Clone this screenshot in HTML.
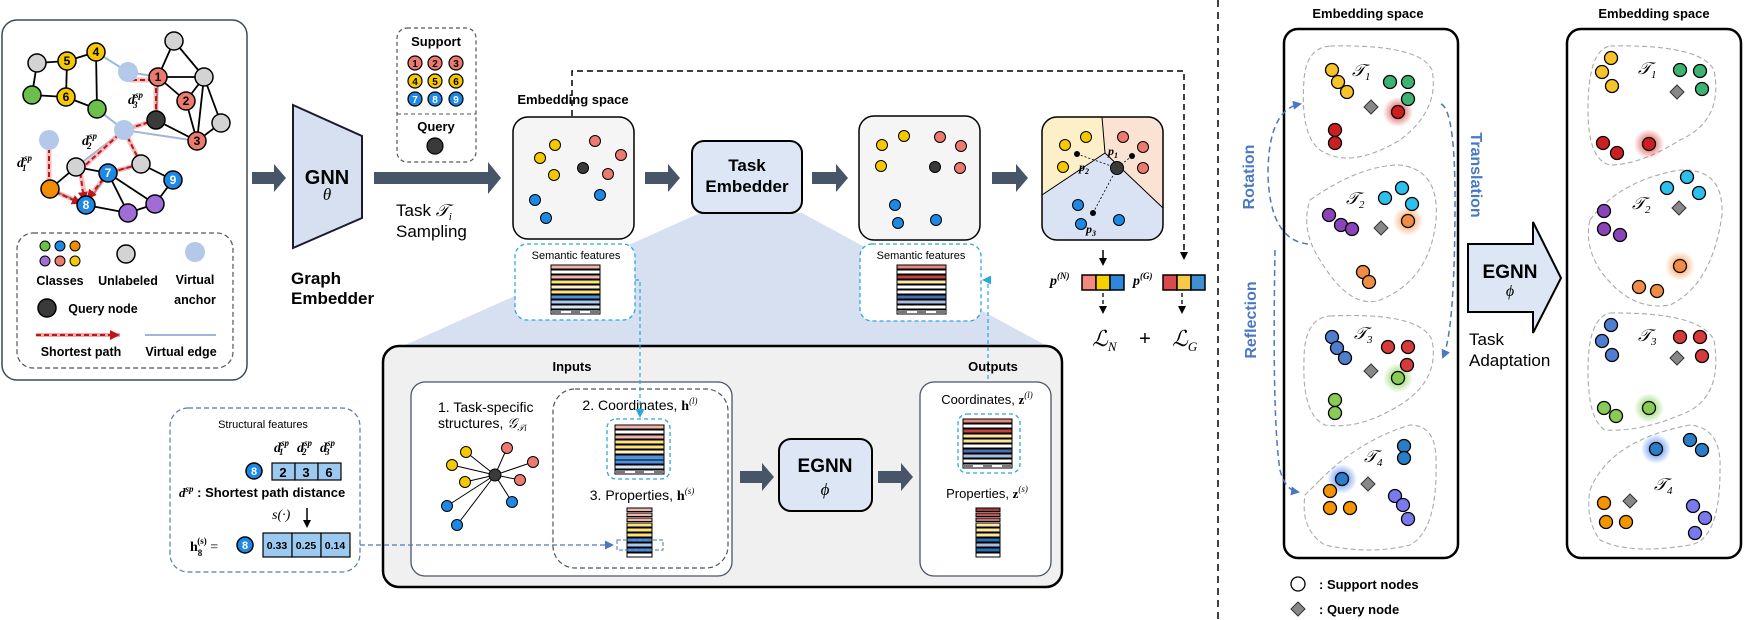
<!DOCTYPE html>
<html><head><meta charset="utf-8"><style>
html,body{margin:0;padding:0;background:#fff;}
svg{display:block;font-family:"Liberation Sans",sans-serif;}
.b{font-weight:bold;}
.m{font-family:"Liberation Serif",serif;font-style:italic;}
</style></head><body>
<svg width="1746" height="620" viewBox="0 0 1746 620" xmlns="http://www.w3.org/2000/svg">
<defs>
<marker id="ak" markerWidth="8" markerHeight="8" refX="6" refY="4" orient="auto" markerUnits="userSpaceOnUse"><path d="M0,0 L8,4 L0,8 z" fill="#000"/></marker>
<marker id="ac" markerWidth="9" markerHeight="9" refX="7" refY="4.5" orient="auto" markerUnits="userSpaceOnUse"><path d="M0,0 L9,4.5 L0,9 z" fill="#29a8e0"/></marker>
<marker id="ab" markerWidth="9" markerHeight="9" refX="7" refY="4.5" orient="auto" markerUnits="userSpaceOnUse"><path d="M0,0 L9,4.5 L0,9 z" fill="#4a78c2"/></marker>
<marker id="ar" markerWidth="10" markerHeight="10" refX="8" refY="5" orient="auto" markerUnits="userSpaceOnUse"><path d="M0,0 L10,5 L0,10 z" fill="#c0161a"/></marker>
<radialGradient id="gr"><stop offset="0.4" stop-color="#d33" stop-opacity="0.6"/><stop offset="1" stop-color="#d33" stop-opacity="0"/></radialGradient>
<radialGradient id="go"><stop offset="0.4" stop-color="#f59040" stop-opacity="0.6"/><stop offset="1" stop-color="#f59040" stop-opacity="0"/></radialGradient>
<radialGradient id="gg"><stop offset="0.4" stop-color="#7c4" stop-opacity="0.6"/><stop offset="1" stop-color="#7c4" stop-opacity="0"/></radialGradient>
<radialGradient id="gb"><stop offset="0.4" stop-color="#37e" stop-opacity="0.6"/><stop offset="1" stop-color="#37e" stop-opacity="0"/></radialGradient>
</defs>

<!-- ===== Left graph panel ===== -->
<rect x="2" y="20" width="245" height="360" rx="15" fill="#fff" stroke="#3d4a5c" stroke-width="1.5"/>
<g stroke="#9fb5dd" stroke-width="2">
<line x1="96" y1="52" x2="128" y2="72"/><line x1="128" y1="72" x2="158" y2="77"/>
<line x1="124" y1="130" x2="156" y2="120"/><line x1="124" y1="130" x2="197" y2="141"/>
<line x1="124" y1="130" x2="97" y2="109"/><line x1="124" y1="130" x2="76" y2="167"/>
<line x1="124" y1="130" x2="141" y2="164"/>
</g>
<g stroke="#000" stroke-width="1.8">
<line x1="37" y1="63" x2="67" y2="61"/><line x1="67" y1="61" x2="96" y2="52"/>
<line x1="37" y1="63" x2="32" y2="95"/><line x1="32" y1="95" x2="66" y2="97"/>
<line x1="67" y1="61" x2="66" y2="97"/><line x1="66" y1="97" x2="97" y2="109"/>
<line x1="96" y1="52" x2="97" y2="109"/>
<line x1="174" y1="41" x2="158" y2="77"/><line x1="174" y1="41" x2="204" y2="77"/>
<line x1="158" y1="77" x2="204" y2="77"/><line x1="158" y1="77" x2="186" y2="101"/>
<line x1="158" y1="77" x2="156" y2="120"/><line x1="156" y1="120" x2="197" y2="141"/>
<line x1="186" y1="101" x2="197" y2="141"/><line x1="204" y1="77" x2="197" y2="141"/>
<line x1="204" y1="77" x2="221" y2="123"/><line x1="221" y1="123" x2="197" y2="141"/>
<line x1="186" y1="101" x2="204" y2="77"/>
<line x1="50" y1="189" x2="76" y2="167"/><line x1="76" y1="167" x2="108" y2="173"/>
<line x1="108" y1="173" x2="141" y2="164"/><line x1="141" y1="164" x2="173" y2="180"/>
<line x1="50" y1="189" x2="86" y2="205"/><line x1="108" y1="173" x2="86" y2="205"/>
<line x1="108" y1="173" x2="128" y2="213"/><line x1="108" y1="173" x2="155" y2="204"/>
<line x1="86" y1="205" x2="128" y2="213"/><line x1="128" y1="213" x2="155" y2="204"/>
<line x1="155" y1="204" x2="173" y2="180"/>
</g>
<g fill="none" stroke="#f4a8a8" stroke-width="5" opacity="0.7">
<polyline points="130,80 156,80 156,120 124,130 80,170 86,202"/>
<polyline points="124,130 141,164 108,173 86,202"/>
<polyline points="49,142 49,189 84,204"/>
</g>
<g fill="none" stroke="#c0161a" stroke-width="2" stroke-dasharray="5,3">
<polyline points="132,80 156,80 156,120 124,130 80,170 84,200" marker-end="url(#ar)"/>
<polyline points="124,130 141,164 108,173 88,198" marker-end="url(#ar)"/>
<polyline points="49,148 49,189 80,203" marker-end="url(#ar)"/>
</g>
<g stroke="#000" stroke-width="1.5">
<circle cx="37" cy="63" r="9" fill="#d3d3d3"/><circle cx="67" cy="61" r="9" fill="#f5c800"/>
<circle cx="96" cy="52" r="9" fill="#f5c800"/><circle cx="158" cy="77" r="9" fill="#ec7a6e"/>
<circle cx="174" cy="41" r="9" fill="#d3d3d3"/><circle cx="204" cy="77" r="9" fill="#d3d3d3"/>
<circle cx="186" cy="101" r="9" fill="#ec7a6e"/><circle cx="156" cy="120" r="9" fill="#3a3a3a"/>
<circle cx="221" cy="123" r="9" fill="#d3d3d3"/><circle cx="197" cy="141" r="9" fill="#ec7a6e"/>
<circle cx="32" cy="95" r="9" fill="#6cc04a"/><circle cx="66" cy="97" r="9" fill="#f5c800"/>
<circle cx="97" cy="109" r="9" fill="#6cc04a"/>
<circle cx="76" cy="167" r="9" fill="#d3d3d3"/><circle cx="108" cy="173" r="9" fill="#1e88e5"/>
<circle cx="141" cy="164" r="9" fill="#d3d3d3"/><circle cx="173" cy="180" r="9" fill="#1e88e5"/>
<circle cx="50" cy="189" r="9" fill="#f08c00"/><circle cx="86" cy="205" r="9" fill="#1e88e5"/>
<circle cx="128" cy="213" r="9" fill="#a06cd5"/><circle cx="155" cy="204" r="9" fill="#a06cd5"/>
</g>
<g fill="#b4c8ea"><circle cx="128" cy="72" r="10"/><circle cx="124" cy="130" r="10"/><circle cx="49" cy="140" r="10"/></g>
<g class="b" font-size="12" text-anchor="middle">
<text x="67" y="65">5</text><text x="96" y="56">4</text><text x="158" y="81">1</text>
<text x="186" y="105">2</text><text x="197" y="145">3</text><text x="66" y="101">6</text>
<text x="108" y="177" fill="#fff">7</text><text x="173" y="184" fill="#fff">9</text><text x="86" y="209" fill="#fff">8</text>
</g>
<g class="m b" font-size="14"><text x="17" y="167">d<tspan font-size="9" dy="-6">sp</tspan><tspan font-size="9" dx="-10" dy="10">1</tspan></text>
<text x="82" y="145">d<tspan font-size="9" dy="-6">sp</tspan><tspan font-size="9" dx="-10" dy="10">2</tspan></text>
<text x="128" y="104">d<tspan font-size="9" dy="-6">sp</tspan><tspan font-size="9" dx="-10" dy="10">3</tspan></text></g>
<!-- legend -->
<rect x="17" y="233" width="216" height="135" rx="16" fill="none" stroke="#555" stroke-width="1.2" stroke-dasharray="5,3"/>
<g stroke="#000" stroke-width="1">
<circle cx="45" cy="246" r="5" fill="#6cc04a"/><circle cx="60" cy="246" r="5" fill="#1e88e5"/><circle cx="75" cy="246" r="5" fill="#f08c00"/>
<circle cx="45" cy="261" r="5" fill="#a06cd5"/><circle cx="60" cy="261" r="5" fill="#ec7a6e"/><circle cx="75" cy="261" r="5" fill="#f5c800"/>
<circle cx="126" cy="254" r="9" fill="#d3d3d3" stroke-width="1.5"/>
<circle cx="47" cy="308" r="9" fill="#3a3a3a" stroke-width="1.5"/>
</g>
<circle cx="195" cy="252" r="10" fill="#b4c8ea"/>
<g class="b" font-size="12.5" text-anchor="middle">
<text x="60" y="285">Classes</text><text x="128" y="285">Unlabeled</text>
<text x="195" y="284">Virtual</text><text x="195" y="304">anchor</text>
<text x="103" y="313">Query node</text>
<text x="81" y="356">Shortest path</text><text x="181" y="356">Virtual edge</text>
</g>
<line x1="36" y1="335" x2="120" y2="335" stroke="#f4a8a8" stroke-width="4"/>
<line x1="36" y1="335" x2="118" y2="335" stroke="#c0161a" stroke-width="2" stroke-dasharray="5,3" marker-end="url(#ar)"/>
<line x1="145" y1="335" x2="216" y2="335" stroke="#9fb5dd" stroke-width="2"/>

<!-- arrows -->
<g fill="#475569">
<path d="M252,172 H274 V164 L286,178 L274,192 V184 H252 z"/>
<path d="M374,172 H488 V162 L501,178 L488,194 V184 H374 z"/>
<path d="M645,172 H668 V164 L680,178 L668,192 V184 H645 z"/>
<path d="M812,172 H836 V164 L848,178 L836,192 V184 H812 z"/>
<path d="M992,172 H1016 V164 L1028,178 L1016,192 V184 H992 z"/>
</g>

<!-- GNN -->
<path d="M293,105 L362,136 L362,218 L293,248 z" fill="#d6e0f0" stroke="#1a1a2e" stroke-width="2"/>
<text x="327" y="184" class="b" font-size="20" text-anchor="middle">GNN</text>
<text x="327" y="200" class="m" font-size="17" text-anchor="middle">θ</text>
<text x="291" y="284" class="b" font-size="17">Graph</text>
<text x="291" y="304" class="b" font-size="17">Embedder</text>

<!-- support -->
<rect x="397" y="28" width="79" height="134" rx="10" fill="none" stroke="#555" stroke-width="1.2" stroke-dasharray="4,3"/>
<line x1="397" y1="114" x2="476" y2="114" stroke="#555" stroke-width="1" stroke-dasharray="4,3"/>
<text x="436" y="46" class="b" font-size="13" text-anchor="middle">Support</text>
<text x="436" y="131" class="b" font-size="13" text-anchor="middle">Query</text>
<g stroke="#000" stroke-width="1.2">
<circle cx="415" cy="63" r="7" fill="#ec7a6e"/><circle cx="435" cy="63" r="7" fill="#ec7a6e"/><circle cx="456" cy="63" r="7" fill="#ec7a6e"/>
<circle cx="415" cy="81" r="7" fill="#f5c800"/><circle cx="435" cy="81" r="7" fill="#f5c800"/><circle cx="456" cy="81" r="7" fill="#f5c800"/>
<circle cx="415" cy="99" r="7" fill="#1e88e5"/><circle cx="435" cy="99" r="7" fill="#1e88e5"/><circle cx="456" cy="99" r="7" fill="#1e88e5"/>
<circle cx="435" cy="146" r="8" fill="#3a3a3a"/>
</g>
<g font-size="10" text-anchor="middle" class="b">
<text x="415" y="67">1</text><text x="435" y="67">2</text><text x="456" y="67">3</text>
<text x="415" y="85">4</text><text x="435" y="85">5</text><text x="456" y="85">6</text>
<text x="415" y="103" fill="#fff">7</text><text x="435" y="103" fill="#fff">8</text><text x="456" y="103" fill="#fff">9</text>
</g>
<text x="396" y="216" font-size="17">Task <tspan class="m">𝒯</tspan><tspan class="m" font-size="11" dy="4">i</tspan></text>
<text x="396" y="237" font-size="17">Sampling</text>

<!-- light blue fan -->
<polygon points="700,213 802,213 1047,346 403,346" fill="#d6e0f0"/>

<!-- dashed black feedback -->
<polyline points="572,116 572,71 1184,71 1184,258" fill="none" stroke="#000" stroke-width="1.5" stroke-dasharray="6,4" marker-end="url(#ak)"/>

<!-- embedding 1 -->
<text x="573" y="104" class="b" font-size="13" text-anchor="middle">Embedding space</text>
<rect x="513" y="117" width="121" height="122" rx="15" fill="#f5f5f5" stroke="#000" stroke-width="1.5"/>
<g stroke="#000" stroke-width="1">
<circle cx="555" cy="145" r="5.5" fill="#f5c800"/><circle cx="540" cy="158" r="5.5" fill="#f5c800"/><circle cx="554" cy="175" r="5.5" fill="#f5c800"/>
<circle cx="595" cy="141" r="5.5" fill="#ec7a6e"/><circle cx="621" cy="155" r="5.5" fill="#ec7a6e"/><circle cx="608" cy="174" r="5.5" fill="#ec7a6e"/>
<circle cx="583" cy="168" r="5.5" fill="#3a3a3a"/>
<circle cx="535" cy="200" r="5.5" fill="#1e88e5"/><circle cx="546" cy="218" r="5.5" fill="#1e88e5"/><circle cx="600" cy="195" r="5.5" fill="#1e88e5"/>
</g>
<!-- task embedder -->
<rect x="692" y="141" width="110" height="72" rx="12" fill="#dce6f4" stroke="#000" stroke-width="2"/>
<text x="747" y="171" class="b" font-size="17" text-anchor="middle">Task</text>
<text x="747" y="192" class="b" font-size="17" text-anchor="middle">Embedder</text>
<!-- embedding 2 -->
<rect x="859" y="116" width="121" height="124" rx="15" fill="#f5f5f5" stroke="#000" stroke-width="1.5"/>
<g stroke="#000" stroke-width="1">
<circle cx="882" cy="145" r="5.5" fill="#f5c800"/><circle cx="904" cy="136" r="5.5" fill="#f5c800"/><circle cx="881" cy="166" r="5.5" fill="#f5c800"/>
<circle cx="940" cy="137" r="5.5" fill="#ec7a6e"/><circle cx="961" cy="146" r="5.5" fill="#ec7a6e"/><circle cx="960" cy="168" r="5.5" fill="#ec7a6e"/>
<circle cx="935" cy="167" r="5.5" fill="#3a3a3a"/>
<circle cx="895" cy="205" r="5.5" fill="#1e88e5"/><circle cx="898" cy="223" r="5.5" fill="#1e88e5"/><circle cx="936" cy="220" r="5.5" fill="#1e88e5"/>
</g>

<!-- semantic boxes -->
<rect x="515" y="244" width="120" height="76" rx="12" fill="#fff" stroke="#29a8e0" stroke-width="1.3" stroke-dasharray="4,3"/>
<text x="576" y="259" font-size="11" text-anchor="middle">Semantic features</text>
<g stroke="#000" stroke-width="1">
<rect x="551" y="265" width="49" height="4" fill="#f4b4ac"/><rect x="551" y="270" width="49" height="4" fill="#fff"/>
<rect x="551" y="275" width="49" height="4" fill="#f4b4ac"/><rect x="551" y="280" width="49" height="4" fill="#fde27a"/>
<rect x="551" y="285" width="49" height="4" fill="#fff3c0"/><rect x="551" y="290" width="49" height="4" fill="#fde27a"/>
<rect x="551" y="295" width="49" height="4" fill="#4f93e0"/><rect x="551" y="300" width="49" height="4" fill="#a9c9f0"/>
<rect x="551" y="305" width="49" height="4" fill="#d6e6f8"/><rect x="551" y="310" width="49" height="4" fill="#fff"/>
</g>
<g fill="#777"><rect x="552" y="311" width="9" height="3"/><rect x="571" y="311" width="9" height="3"/><rect x="590" y="311" width="9" height="3"/></g>
<rect x="860" y="244" width="121" height="77" rx="12" fill="#fff" stroke="#29a8e0" stroke-width="1.3" stroke-dasharray="4,3"/>
<text x="921" y="259" font-size="11" text-anchor="middle">Semantic features</text>
<g stroke="#000" stroke-width="1">
<rect x="897" y="265" width="49" height="4" fill="#e88a80"/><rect x="897" y="270" width="49" height="4" fill="#fff"/>
<rect x="897" y="275" width="49" height="4" fill="#c84040"/><rect x="897" y="280" width="49" height="4" fill="#fde7a0"/>
<rect x="897" y="285" width="49" height="4" fill="#fff"/><rect x="897" y="290" width="49" height="4" fill="#fff"/>
<rect x="897" y="295" width="49" height="4" fill="#4a6fb0"/><rect x="897" y="300" width="49" height="4" fill="#a9bde0"/>
<rect x="897" y="305" width="49" height="4" fill="#fff"/><rect x="897" y="310" width="49" height="4" fill="#fff"/>
</g>
<g fill="#777"><rect x="898" y="311" width="9" height="3"/><rect x="917" y="311" width="9" height="3"/><rect x="936" y="311" width="9" height="3"/></g>

<!-- voronoi -->
<clipPath id="vc"><rect x="1042" y="117" width="121" height="123" rx="15"/></clipPath>
<g clip-path="url(#vc)">
<rect x="1042" y="117" width="121" height="123" fill="#fdf0c8"/>
<polygon points="1102,117 1163,117 1163,208 1105,153" fill="#fbe3d4"/>
<polygon points="1042,195 1105,153 1163,208 1163,240 1042,240" fill="#dae3f3"/>
<polyline points="1102,117 1105,153" stroke="#000" stroke-width="1" fill="none"/>
<polyline points="1042,195 1105,153 1163,208" stroke="#000" stroke-width="1" fill="none"/>
<g stroke="#000" stroke-width="0.8" stroke-dasharray="2,2"><line x1="1077" y1="154" x2="1117" y2="168"/><line x1="1132" y1="156" x2="1117" y2="168"/><line x1="1093" y1="213" x2="1117" y2="168"/></g>
</g>
<rect x="1042" y="117" width="121" height="123" rx="15" fill="none" stroke="#000" stroke-width="1.5"/>
<g stroke="#000" stroke-width="1">
<circle cx="1065" cy="145" r="5.5" fill="#f5c800"/><circle cx="1086" cy="137" r="5.5" fill="#f5c800"/><circle cx="1063" cy="167" r="5.5" fill="#f5c800"/>
<circle cx="1123" cy="137" r="5.5" fill="#ec7a6e"/><circle cx="1143" cy="147" r="5.5" fill="#ec7a6e"/><circle cx="1143" cy="168" r="5.5" fill="#ec7a6e"/>
<circle cx="1117" cy="168" r="6.5" fill="#3a3a3a"/>
<circle cx="1078" cy="205" r="5.5" fill="#1e88e5"/><circle cx="1081" cy="224" r="5.5" fill="#1e88e5"/><circle cx="1119" cy="220" r="5.5" fill="#1e88e5"/>
</g>
<g fill="#000"><circle cx="1077" cy="154" r="3"/><circle cx="1132" cy="156" r="3"/><circle cx="1093" cy="213" r="3"/></g>
<g class="m b" font-size="12"><text x="1108" y="155">p<tspan font-size="8" dy="3">1</tspan></text>
<text x="1079" y="171">p<tspan font-size="8" dy="3">2</tspan></text><text x="1086" y="233">p<tspan font-size="8" dy="3">3</tspan></text></g>

<line x1="1103" y1="250" x2="1103" y2="264" stroke="#000" stroke-width="1.5" marker-end="url(#ak)"/>
<text x="1050" y="285" class="m b" font-size="14">p<tspan font-size="9" dy="-6">(N)</tspan></text>
<g stroke="#000" stroke-width="1.5"><rect x="1082" y="275" width="14" height="15" fill="#f28b7d"/><rect x="1096" y="275" width="14" height="15" fill="#f7d000"/><rect x="1110" y="275" width="14" height="15" fill="#2e86de"/></g>
<text x="1133" y="285" class="m b" font-size="14">p<tspan font-size="9" dy="-6">(G)</tspan></text>
<g stroke="#000" stroke-width="1.5"><rect x="1163" y="275" width="14" height="15" fill="#d94a4a"/><rect x="1177" y="275" width="14" height="15" fill="#f7c948"/><rect x="1191" y="275" width="14" height="15" fill="#3f8fd2"/></g>
<line x1="1103" y1="293" x2="1103" y2="312" stroke="#000" stroke-width="1.3" stroke-dasharray="4,3" marker-end="url(#ak)"/>
<line x1="1182" y1="293" x2="1182" y2="312" stroke="#000" stroke-width="1.3" stroke-dasharray="4,3" marker-end="url(#ak)"/>
<text x="1092" y="346" class="m" font-size="22">ℒ<tspan font-size="13" dy="5">N</tspan></text>
<text x="1145" y="345" font-size="20" text-anchor="middle">+</text>
<text x="1172" y="346" class="m" font-size="22">ℒ<tspan font-size="13" dy="5">G</tspan></text>

<!-- divider -->
<line x1="1218" y1="0" x2="1218" y2="620" stroke="#000" stroke-width="1.5" stroke-dasharray="7,5"/>

<!-- structural features -->
<rect x="170" y="408" width="190" height="164" rx="18" fill="#fff" stroke="#5577bb" stroke-width="1.2" stroke-dasharray="5,3"/>
<text x="263" y="428" font-size="11" text-anchor="middle">Structural features</text>
<g class="m b" font-size="14"><text x="274" y="452">d<tspan font-size="9" dy="-6">sp</tspan><tspan font-size="9" dx="-10" dy="9">1</tspan></text>
<text x="297" y="452">d<tspan font-size="9" dy="-6">sp</tspan><tspan font-size="9" dx="-10" dy="9">2</tspan></text>
<text x="320" y="452">d<tspan font-size="9" dy="-6">sp</tspan><tspan font-size="9" dx="-10" dy="9">3</tspan></text></g>
<circle cx="254" cy="471" r="8" fill="#1e88e5" stroke="#000" stroke-width="1.5"/>
<text x="254" y="475" class="b" font-size="11" fill="#fff" text-anchor="middle">8</text>
<g stroke="#000" stroke-width="1.2" fill="#9cc9f0"><rect x="272" y="463" width="23" height="17"/><rect x="295" y="463" width="23" height="17"/><rect x="318" y="463" width="23" height="17"/></g>
<g class="b" font-size="13" text-anchor="middle"><text x="283" y="477">2</text><text x="306" y="477">3</text><text x="329" y="477">6</text></g>
<text x="179" y="497" font-size="13" class="b"><tspan class="m">d<tspan font-size="9" dy="-5">sp</tspan></tspan><tspan dy="5"> : Shortest path distance</tspan></text>
<text x="272" y="519" class="m" font-size="14">s(·)</text>
<line x1="307" y1="508" x2="307" y2="526" stroke="#000" stroke-width="1.5" marker-end="url(#ak)"/>
<text x="190" y="551" font-size="14" class="b" font-family="Liberation Serif">h<tspan font-size="9" dy="5">8</tspan><tspan font-size="9" dx="-5" dy="-12">(s)</tspan><tspan font-size="14" font-weight="normal" dy="7"> =</tspan></text>
<circle cx="245" cy="545" r="8" fill="#1e88e5" stroke="#000" stroke-width="1.5"/>
<text x="245" y="549" class="b" font-size="11" fill="#fff" text-anchor="middle">8</text>
<g stroke="#000" stroke-width="1.2" fill="#9cc9f0"><rect x="263" y="533" width="29" height="24"/><rect x="292" y="533" width="29" height="24"/><rect x="321" y="533" width="29" height="24"/></g>
<g class="b" font-size="10.5" text-anchor="middle"><text x="277" y="549">0.33</text><text x="306" y="549">0.25</text><text x="335" y="549">0.14</text></g>

<!-- bottom big box -->
<rect x="383" y="346" width="679" height="241" rx="16" fill="#f0f0f0" stroke="#000" stroke-width="2.5"/>
<g fill="#475569">
<path d="M740,471 H762 V463 L774,477 L762,491 V483 H740 z"/>
<path d="M878,471 H901 V463 L913,477 L901,491 V483 H878 z"/>
</g>
<text x="572" y="371" class="b" font-size="13" text-anchor="middle">Inputs</text>
<rect x="411" y="382" width="321" height="194" rx="14" fill="#fff" stroke="#4a5568" stroke-width="1.3"/>
<rect x="553" y="389" width="175" height="179" rx="22" fill="none" stroke="#4a5568" stroke-width="1.2" stroke-dasharray="5,3"/>
<text x="438" y="412" font-size="14">1. Task-specific</text>
<text x="438" y="428" font-size="14">structures, <tspan class="m">𝒢</tspan><tspan class="m" font-size="9" dy="3">𝒯i</tspan></text>
<g stroke="#000" stroke-width="1">
<line x1="495" y1="475" x2="466" y2="452"/><line x1="495" y1="475" x2="452" y2="465"/><line x1="495" y1="475" x2="465" y2="482"/>
<line x1="495" y1="475" x2="507" y2="448"/><line x1="495" y1="475" x2="533" y2="462"/><line x1="495" y1="475" x2="520" y2="480"/>
<line x1="495" y1="475" x2="447" y2="506"/><line x1="495" y1="475" x2="457" y2="525"/><line x1="495" y1="475" x2="512" y2="502"/>
<circle cx="466" cy="452" r="5.5" fill="#f5c800"/><circle cx="452" cy="465" r="5.5" fill="#f5c800"/><circle cx="465" cy="482" r="5.5" fill="#f5c800"/>
<circle cx="507" cy="448" r="5.5" fill="#ec7a6e"/><circle cx="533" cy="462" r="5.5" fill="#ec7a6e"/><circle cx="520" cy="480" r="5.5" fill="#ec7a6e"/>
<circle cx="447" cy="506" r="5.5" fill="#1e88e5"/><circle cx="457" cy="525" r="5.5" fill="#1e88e5"/><circle cx="512" cy="502" r="5.5" fill="#1e88e5"/>
<circle cx="495" cy="475" r="6" fill="#3a3a3a"/>
</g>
<text x="640" y="410" font-size="14" text-anchor="middle">2. Coordinates, <tspan font-family="Liberation Serif" font-weight="bold">h</tspan><tspan font-size="9" dy="-6" class="m">(l)</tspan></text>
<rect x="607" y="419" width="63" height="60" rx="9" fill="none" stroke="#29a8e0" stroke-width="1.3" stroke-dasharray="4,3"/>
<g stroke="#000" stroke-width="1">
<rect x="615" y="425" width="49" height="4" fill="#f4b4ac"/><rect x="615" y="430" width="49" height="4" fill="#fff"/>
<rect x="615" y="435" width="49" height="4" fill="#f4b4ac"/><rect x="615" y="440" width="49" height="4" fill="#fde27a"/>
<rect x="615" y="445" width="49" height="4" fill="#fde27a"/><rect x="615" y="450" width="49" height="4" fill="#fff3c0"/>
<rect x="615" y="455" width="49" height="5" fill="#4f93e0"/><rect x="615" y="460" width="49" height="4" fill="#4f93e0"/>
<rect x="615" y="465" width="49" height="4" fill="#d6e6f8"/><rect x="615" y="470" width="49" height="4" fill="#fff"/>
</g>
<g fill="#777"><rect x="616" y="471" width="9" height="3"/><rect x="635" y="471" width="9" height="3"/><rect x="654" y="471" width="9" height="3"/></g>
<text x="642" y="500" font-size="14" text-anchor="middle">3. Properties, <tspan font-family="Liberation Serif" font-weight="bold">h</tspan><tspan font-size="9" dy="-6" class="m">(s)</tspan></text>
<g stroke="#000" stroke-width="1">
<rect x="627" y="508" width="25" height="3.5" fill="#f4b4ac"/><rect x="627" y="513" width="25" height="3.5" fill="#f4b4ac"/>
<rect x="627" y="518" width="25" height="3.5" fill="#f4b4ac"/><rect x="627" y="523" width="25" height="4" fill="#fde27a"/>
<rect x="627" y="528" width="25" height="4" fill="#fde27a"/><rect x="627" y="533" width="25" height="4" fill="#fde27a"/>
<rect x="627" y="538" width="25" height="4" fill="#4f93e0"/><rect x="627" y="543" width="25" height="4" fill="#a9c9f0"/>
<rect x="627" y="548" width="25" height="4" fill="#4f93e0"/><rect x="627" y="553" width="25" height="4" fill="#fff"/>
</g>
<rect x="617" y="540" width="46" height="10" fill="none" stroke="#4a78c2" stroke-width="1" stroke-dasharray="4,2"/>
<line x1="360" y1="545" x2="612" y2="545" stroke="#4a78c2" stroke-width="1.2" stroke-dasharray="5,3" marker-end="url(#ab)"/>
<polyline points="635,280 640,280 640,416" fill="none" stroke="#29a8e0" stroke-width="1.2" stroke-dasharray="4,3" marker-end="url(#ac)"/>
<polyline points="988,414 988,280 984,280" fill="none" stroke="#29a8e0" stroke-width="1.2" stroke-dasharray="4,3" marker-end="url(#ac)"/>

<rect x="779" y="439" width="93" height="72" rx="12" fill="#dce6f4" stroke="#000" stroke-width="2"/>
<text x="825" y="472" class="b" font-size="19" text-anchor="middle">EGNN</text>
<text x="825" y="495" class="m" font-size="17" text-anchor="middle">ϕ</text>

<text x="993" y="371" class="b" font-size="13" text-anchor="middle">Outputs</text>
<rect x="920" y="382" width="131" height="194" rx="14" fill="#fff" stroke="#4a5568" stroke-width="1.3"/>
<text x="987" y="404" font-size="13" text-anchor="middle">Coordinates, <tspan font-family="Liberation Serif" font-weight="bold">z</tspan><tspan font-size="9" dy="-6" class="m">(l)</tspan></text>
<rect x="958" y="414" width="62" height="59" rx="9" fill="none" stroke="#29a8e0" stroke-width="1.3" stroke-dasharray="4,3"/>
<g stroke="#000" stroke-width="1">
<rect x="963" y="419" width="49" height="4" fill="#e88a80"/><rect x="963" y="424" width="49" height="4" fill="#fff"/>
<rect x="963" y="429" width="49" height="4" fill="#c84040"/><rect x="963" y="434" width="49" height="4" fill="#fde7a0"/>
<rect x="963" y="439" width="49" height="4" fill="#fde7a0"/><rect x="963" y="444" width="49" height="4" fill="#fff"/>
<rect x="963" y="449" width="49" height="4" fill="#4a6fb0"/><rect x="963" y="454" width="49" height="4" fill="#a9bde0"/>
<rect x="963" y="459" width="49" height="4" fill="#fff"/><rect x="963" y="464" width="49" height="4" fill="#fff"/>
</g>
<g fill="#777"><rect x="964" y="465" width="9" height="3"/><rect x="983" y="465" width="9" height="3"/><rect x="1002" y="465" width="9" height="3"/></g>
<text x="987" y="498" font-size="13" text-anchor="middle">Properties, <tspan font-family="Liberation Serif" font-weight="bold">z</tspan><tspan font-size="9" dy="-6" class="m">(s)</tspan></text>
<g stroke="#000" stroke-width="1">
<rect x="976" y="508" width="24" height="3.5" fill="#a83a3a"/><rect x="976" y="513" width="24" height="3.5" fill="#c85050"/>
<rect x="976" y="518" width="24" height="3.5" fill="#c07070"/><rect x="976" y="523" width="24" height="4" fill="#fde7a0"/>
<rect x="976" y="528" width="24" height="4" fill="#fde7a0"/><rect x="976" y="533" width="24" height="4" fill="#fde7a0"/>
<rect x="976" y="538" width="24" height="4" fill="#2a6fb8"/><rect x="976" y="543" width="24" height="4" fill="#a9bde0"/>
<rect x="976" y="548" width="24" height="4" fill="#2a6fb8"/><rect x="976" y="553" width="24" height="4" fill="#fff"/>
</g>

<!-- ===== Right side ===== -->
<text x="1368" y="18" class="b" font-size="13" text-anchor="middle">Embedding space</text>
<text x="1654" y="18" class="b" font-size="13" text-anchor="middle">Embedding space</text>
<rect x="1284" y="29" width="174" height="529" rx="14" fill="#fff" stroke="#000" stroke-width="2.5"/>
<rect x="1567" y="29" width="174" height="529" rx="14" fill="#fff" stroke="#000" stroke-width="2.5"/>

<g fill="none" stroke="#aaa" stroke-width="1.1" stroke-dasharray="5,3">
<path d="M1330,46 Q1420,44 1432,70 Q1440,110 1400,140 Q1350,170 1320,150 Q1300,135 1304,80 Q1306,48 1330,46 z"/>
<path d="M1310,200 Q1360,165 1400,165 Q1440,170 1436,220 Q1430,280 1380,300 Q1350,310 1320,260 Q1300,230 1310,200 z"/>
<path d="M1330,316 Q1420,312 1432,340 Q1440,380 1400,405 Q1360,430 1325,425 Q1302,415 1304,360 Q1304,318 1330,316 z"/>
<path d="M1320,480 Q1360,440 1410,425 Q1436,425 1436,460 Q1438,530 1410,545 Q1370,555 1325,545 Q1300,530 1305,495 z"/>
<path d="M1610,46 Q1700,44 1714,70 Q1724,120 1680,140 Q1640,165 1610,165 Q1588,160 1588,110 Q1588,50 1610,46 z"/>
<path d="M1590,220 Q1620,180 1680,170 Q1724,168 1722,215 Q1712,285 1670,305 Q1630,312 1600,270 Q1584,245 1590,220 z"/>
<path d="M1610,313 Q1700,312 1714,340 Q1724,400 1680,415 Q1640,432 1605,430 Q1588,420 1588,370 Q1588,318 1610,313 z"/>
<path d="M1590,490 Q1610,440 1690,425 Q1722,428 1720,470 Q1720,540 1690,545 Q1630,555 1600,540 Q1585,520 1590,490 z"/>
</g>

<!-- glows -->
<circle cx="1398" cy="112" r="15" fill="url(#gr)"/><circle cx="1408" cy="221" r="15" fill="url(#go)"/>
<circle cx="1398" cy="378" r="15" fill="url(#gg)"/><circle cx="1342" cy="479" r="15" fill="url(#gb)"/>
<circle cx="1649" cy="144" r="15" fill="url(#gr)"/><circle cx="1680" cy="266" r="15" fill="url(#go)"/>
<circle cx="1649" cy="408" r="15" fill="url(#gg)"/><circle cx="1656" cy="449" r="15" fill="url(#gb)"/>

<g stroke="#000" stroke-width="1.3">
<circle cx="1332" cy="70" r="6.5" fill="#f6c42a"/><circle cx="1338" cy="82" r="6.5" fill="#f6c42a"/><circle cx="1347" cy="92" r="6.5" fill="#f6c42a"/>
<circle cx="1390" cy="82" r="6.5" fill="#3cb371"/><circle cx="1408" cy="82" r="6.5" fill="#3cb371"/><circle cx="1408" cy="99" r="6.5" fill="#3cb371"/>
<circle cx="1398" cy="112" r="6.5" fill="#cc2020"/>
<circle cx="1335" cy="130" r="6.5" fill="#cc2020"/><circle cx="1335" cy="143" r="6.5" fill="#cc2020"/>
<circle cx="1329" cy="215" r="6.5" fill="#8a44b8"/><circle cx="1341" cy="225" r="6.5" fill="#8a44b8"/><circle cx="1352" cy="229" r="6.5" fill="#8a44b8"/>
<circle cx="1385" cy="198" r="6.5" fill="#2ec0ec"/><circle cx="1402" cy="188" r="6.5" fill="#2ec0ec"/><circle cx="1412" cy="204" r="6.5" fill="#2ec0ec"/>
<circle cx="1408" cy="221" r="6.5" fill="#f08c44"/>
<circle cx="1363" cy="272" r="6.5" fill="#f08c44"/><circle cx="1369" cy="282" r="6.5" fill="#f08c44"/>
<circle cx="1332" cy="337" r="6.5" fill="#4f7ed0"/><circle cx="1337" cy="348" r="6.5" fill="#4f7ed0"/><circle cx="1345" cy="358" r="6.5" fill="#4f7ed0"/>
<circle cx="1388" cy="347" r="6.5" fill="#d63a3a"/><circle cx="1408" cy="347" r="6.5" fill="#d63a3a"/><circle cx="1407" cy="365" r="6.5" fill="#d63a3a"/>
<circle cx="1398" cy="378" r="6.5" fill="#88cc55"/>
<circle cx="1335" cy="400" r="6.5" fill="#88cc55"/><circle cx="1335" cy="413" r="6.5" fill="#88cc55"/>
<circle cx="1404" cy="446" r="6.5" fill="#2a7ec8"/><circle cx="1404" cy="458" r="6.5" fill="#2a7ec8"/>
<circle cx="1330" cy="491" r="6.5" fill="#f59300"/><circle cx="1330" cy="508" r="6.5" fill="#f59300"/><circle cx="1350" cy="508" r="6.5" fill="#f59300"/>
<circle cx="1342" cy="479" r="6.5" fill="#2a7ec8"/>
<circle cx="1395" cy="496" r="6.5" fill="#7a7af0"/><circle cx="1403" cy="505" r="6.5" fill="#7a7af0"/><circle cx="1408" cy="519" r="6.5" fill="#7a7af0"/>
<circle cx="1611" cy="58" r="6.5" fill="#f6c42a"/><circle cx="1602" cy="72" r="6.5" fill="#f6c42a"/><circle cx="1612" cy="86" r="6.5" fill="#f6c42a"/>
<circle cx="1680" cy="70" r="6.5" fill="#3cb371"/><circle cx="1700" cy="71" r="6.5" fill="#3cb371"/><circle cx="1702" cy="89" r="6.5" fill="#3cb371"/>
<circle cx="1603" cy="143" r="6.5" fill="#cc2020"/><circle cx="1617" cy="153" r="6.5" fill="#cc2020"/><circle cx="1649" cy="144" r="6.5" fill="#cc2020"/>
<circle cx="1667" cy="188" r="6.5" fill="#2ec0ec"/><circle cx="1687" cy="177" r="6.5" fill="#2ec0ec"/><circle cx="1699" cy="193" r="6.5" fill="#2ec0ec"/>
<circle cx="1604" cy="211" r="6.5" fill="#8a44b8"/><circle cx="1604" cy="229" r="6.5" fill="#8a44b8"/><circle cx="1620" cy="235" r="6.5" fill="#8a44b8"/>
<circle cx="1680" cy="266" r="6.5" fill="#f08c44"/><circle cx="1639" cy="287" r="6.5" fill="#f08c44"/><circle cx="1657" cy="291" r="6.5" fill="#f08c44"/>
<circle cx="1611" cy="325" r="6.5" fill="#4f7ed0"/><circle cx="1602" cy="341" r="6.5" fill="#4f7ed0"/><circle cx="1612" cy="355" r="6.5" fill="#4f7ed0"/>
<circle cx="1680" cy="337" r="6.5" fill="#d63a3a"/><circle cx="1700" cy="337" r="6.5" fill="#d63a3a"/><circle cx="1702" cy="356" r="6.5" fill="#d63a3a"/>
<circle cx="1604" cy="408" r="6.5" fill="#88cc55"/><circle cx="1616" cy="416" r="6.5" fill="#88cc55"/><circle cx="1649" cy="408" r="6.5" fill="#88cc55"/>
<circle cx="1656" cy="449" r="6.5" fill="#2a7ec8"/><circle cx="1690" cy="440" r="6.5" fill="#2a7ec8"/><circle cx="1702" cy="450" r="6.5" fill="#2a7ec8"/>
<circle cx="1604" cy="503" r="6.5" fill="#f59300"/><circle cx="1606" cy="522" r="6.5" fill="#f59300"/><circle cx="1626" cy="522" r="6.5" fill="#f59300"/>
<circle cx="1693" cy="506" r="6.5" fill="#7a7af0"/><circle cx="1705" cy="518" r="6.5" fill="#7a7af0"/><circle cx="1695" cy="533" r="6.5" fill="#7a7af0"/>
</g>
<g fill="#888" stroke="#333" stroke-width="1">
<path d="M1371,100 l7,7 l-7,7 l-7,-7 z"/><path d="M1381,221 l7,7 l-7,7 l-7,-7 z"/>
<path d="M1371,364 l7,7 l-7,7 l-7,-7 z"/><path d="M1368,477 l7,7 l-7,7 l-7,-7 z"/>
<path d="M1677,85 l7,7 l-7,7 l-7,-7 z"/><path d="M1679,201 l7,7 l-7,7 l-7,-7 z"/>
<path d="M1677,351 l7,7 l-7,7 l-7,-7 z"/><path d="M1630,494 l7,7 l-7,7 l-7,-7 z"/>
<path d="M1298,602 l7,7 l-7,7 l-7,-7 z"/>
</g>
<g class="m" font-size="17">
<text x="1352" y="76">𝒯<tspan font-size="11" dy="4">1</tspan></text><text x="1346" y="204">𝒯<tspan font-size="11" dy="4">2</tspan></text>
<text x="1354" y="339">𝒯<tspan font-size="11" dy="4">3</tspan></text><text x="1364" y="462">𝒯<tspan font-size="11" dy="4">4</tspan></text>
<text x="1638" y="74">𝒯<tspan font-size="11" dy="4">1</tspan></text><text x="1632" y="209">𝒯<tspan font-size="11" dy="4">2</tspan></text>
<text x="1638" y="341">𝒯<tspan font-size="11" dy="4">3</tspan></text><text x="1654" y="490">𝒯<tspan font-size="11" dy="4">4</tspan></text>
</g>

<g fill="none" stroke="#4a78c2" stroke-width="1.5" stroke-dasharray="6,4">
<path d="M1308,244 Q1270,240 1268,175 Q1268,110 1300,104" marker-end="url(#ab)"/>
<path d="M1275,250 Q1272,420 1280,470 Q1285,490 1298,492" marker-end="url(#ab)"/>
<path d="M1441,104 Q1455,110 1455,200 Q1455,330 1443,357" marker-end="url(#ab)"/>
</g>
<text transform="translate(1254,177) rotate(-90)" class="b" font-size="16" fill="#4a78c2" text-anchor="middle">Rotation</text>
<text transform="translate(1256,320) rotate(-90)" class="b" font-size="16" fill="#4a78c2" text-anchor="middle">Reflection</text>
<text transform="translate(1471,175) rotate(90)" class="b" font-size="16" fill="#4a78c2" text-anchor="middle">Translation</text>

<path d="M1468,244 H1533 V222 L1561,278 L1533,333 V312 H1468 z" fill="#dce6f4" stroke="#000" stroke-width="2"/>
<text x="1510" y="278" class="b" font-size="19" text-anchor="middle">EGNN</text>
<text x="1510" y="296" class="m" font-size="16" text-anchor="middle">ϕ</text>
<text x="1469" y="345" font-size="17">Task</text>
<text x="1469" y="366" font-size="17">Adaptation</text>

<circle cx="1298" cy="584" r="7" fill="#fff" stroke="#000" stroke-width="1.3"/>
<text x="1319" y="589" class="b" font-size="13">: Support nodes</text>
<text x="1319" y="614" class="b" font-size="13">: Query node</text>
</svg>
</body></html>
